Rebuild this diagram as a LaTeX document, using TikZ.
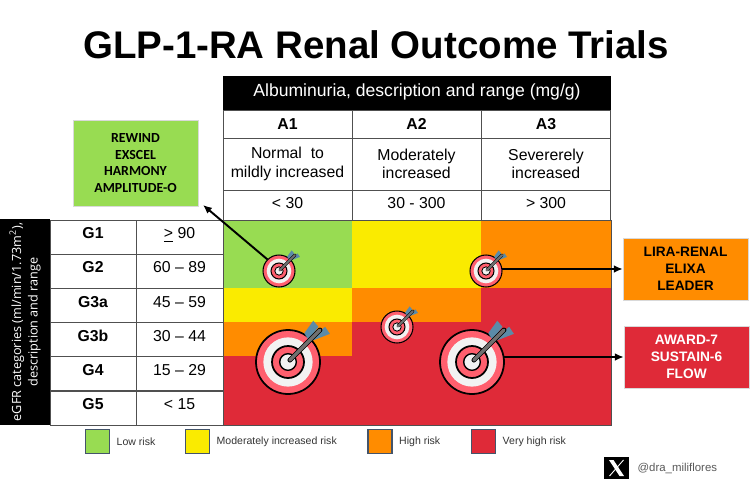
\documentclass[tikz,border=0pt]{standalone}
\usepackage{fontspec}
\setmainfont{Liberation Sans}
\newfontfamily\calfont{Carlito}
\newfontfamily\opfont{Open Sans}
\usetikzlibrary{positioning}
\usetikzlibrary{calc}
\usetikzlibrary{arrows.meta}
\definecolor{lowrisk}{HTML}{98DC52}
\definecolor{modrisk}{HTML}{FAEB00}
\definecolor{highrisk}{HTML}{FF8C00}
\definecolor{vhighrisk}{HTML}{DF2A38}
\definecolor{gridcol}{HTML}{505050}
\definecolor{pinkring}{HTML}{FF5F6E}
\definecolor{fletch}{HTML}{5B8BA8}
\definecolor{shaft}{HTML}{707070}
\definecolor{legendline}{HTML}{44546A}
\tikzset{>={Latex[length=5pt,width=4.4pt]}}
\tikzset{
  cell/.style={draw=gridcol,line width=0.5pt,fill=white,minimum width=#1*0.02cm,inner sep=0pt,anchor=center},
  cellh/.style={minimum height=#1*0.02cm},
  rowcell/.style={text height=6.5pt,text depth=4.5pt},
  heat/.style={fill=#1,draw=none},
  studybox/.style={draw=white!85!black,line width=0.3pt,fill=#1,inner sep=0pt,align=center,font=\bfseries},
  legbox/.style={draw=legendline,line width=0.6pt,fill=#1,minimum size=0.48cm,inner sep=0pt},
  legtext/.style={right=3.6pt of #1,inner sep=0pt,font=\fontsize{6}{7}\selectfont,text=black!80},
  target/.style={circle,minimum size=#1*0.04cm,inner sep=0pt},
  pics/bullseye/.style={code={
    \fill[pinkring] (0,0) circle (1);
    \draw[line width=#1] (0,0) circle (1);
    \fill[white!95!black] (0,0) circle (0.77);
    \fill[pinkring] (0,0) circle (0.50);
    \draw[line width=#1] (0,0) circle (0.50);
    \fill[white!95!black] (0,0) circle (0.26);
    \draw[line width=0.8*#1] (0,0) circle (0.26);
    \fill[fletch] (0.51,-0.90) -- (0.79,-1.29) -- (0.95,-1.10) -- (0.64,-0.69) -- cycle;
    \fill[fletch] (0.69,-0.64) -- (1.31,-0.88) -- (1.16,-1.10) -- (0.80,-0.80) -- cycle;
    \draw[line width=2.8*#1,line cap=round] (0.06,-0.06) -- (1.00,-1.00);
    \draw[shaft,line width=2*#1,line cap=round] (0.06,-0.06) -- (1.00,-1.00);
  }},
}
\begin{document}
\begin{tikzpicture}[x=0.02cm,y=-0.02cm]
\useasboundingbox (0,0) rectangle (750,483);

% Title
\node[font=\bfseries\fontsize{21.9}{26}\selectfont] (title) at (376,45) {GLP-1-RA Renal Outcome Trials};

% Heat map
\fill[heat=vhighrisk] (223,220) rectangle (611,425);
\fill[heat=lowrisk] (223,220) rectangle (352,288);
\fill[heat=modrisk] (352,220) rectangle (481,288);
\fill[heat=highrisk] (481,220) rectangle (611,288);
\fill[heat=modrisk] (223,288) rectangle (352,322);
\fill[heat=highrisk] (352,288) rectangle (481,322);
\fill[heat=highrisk] (223,322) rectangle (352,356);
\draw[gridcol,line width=0.5pt] (223,220) rectangle (611,425);

% Albuminuria header
\node[fill=black,text=white,minimum width=7.76cm,minimum height=0.68cm,inner sep=0pt,text depth=3.8pt,font=\fontsize{10}{11}\selectfont] (albhead) at (417,93) {Albuminuria, description and range (mg/g)};
\foreach \cname/\clab/\cx/\ca/\cb/\cc in {a1/A1/287.5/Normal~~to/mildly increased/{< 30},a2/A2/416.5/Moderately/increased/30 - 300,a3/A3/546/Severerely/increased/{> 300}}{
  \node[cell=129,cellh=28,font=\bfseries\fontsize{9}{11}\selectfont] (\cname) at (\cx,124) {\clab};
  \node[cell=129,cellh=52,align=center,font=\fontsize{9}{10.6}\selectfont] (\cname desc) at (\cx,164) {\ca\\\cb};
  \node[cell=129,cellh=30,text height=6.5pt,text depth=2pt,font=\fontsize{9}{11}\selectfont] (\cname range) at (\cx,205) {\cc};
}

% eGFR rows
\node[fill=black,text=white,rotate=90,minimum width=4.12cm,minimum height=1cm,inner sep=0pt,align=center,font=\opfont\fontsize{7.2}{9.4}\selectfont] (egfr) at (25,322) {eGFR categories (ml/min/1.73m\textsuperscript{2}),\\description and range};
\foreach \rname/\ry/\rlab/\rval in {g1/237/G1/{\underline{>} 90},g2/271/G2/60 -- 89,g3a/305.5/G3a/45 -- 59,g3b/339.5/G3b/30 -- 44,g4/373.5/G4/15 -- 29,g5/408/G5/{< 15}}{
  \node[cell=86,cellh=34,rowcell,font=\bfseries\fontsize{9}{11}\selectfont] (\rname) at (93,\ry) {\rlab};
  \node[cell=87,cellh=34,rowcell,font=\fontsize{9}{11}\selectfont] (\rname val) at (179.5,\ry) {\rval};
}

% Trial boxes
\node[studybox=lowrisk,minimum width=2.5cm,minimum height=1.72cm,font=\calfont\bfseries\fontsize{7.9}{9.6}\selectfont] (rewind) at (135.5,163) {REWIND\\EXSCEL\\HARMONY\\AMPLITUDE-O};
\node[studybox=highrisk,minimum width=2.5cm,minimum height=1.24cm,font=\bfseries\fontsize{7.8}{9.6}\selectfont] (lira) at (685.5,269) {LIRA-RENAL\\ELIXA\\LEADER};
\node[studybox=vhighrisk,text=white,minimum width=2.5cm,minimum height=1.24cm,font=\bfseries\fontsize{7.8}{9.6}\selectfont] (award) at (686.5,357) {AWARD-7\\SUSTAIN-6\\FLOW};
\coordinate (rewindtip) at (203,205);

% Targets
\node[target=16] (tgtlow) at (279,271) {};
\node[target=16] (tgthigh) at (486,271) {};
\node[target=16] (tgtmid) at (397,327) {};
\node[target=32] (tgtbigA) at (288,362) {};
\node[target=32] (tgtbigB) at (472,362) {};

% Arrows
\draw[->,line width=1.1pt] (tgtlow.135) -- (rewindtip);
\draw[->,line width=1.1pt] (tgthigh.east |- lira.west) -- (lira.west);
\draw[->,line width=1.1pt] (tgtbigB.east |- award.west) -- (award.west);

\pic[x=0.32cm,y=-0.32cm] at (tgtlow) {bullseye=0.6pt};
\pic[x=0.32cm,y=-0.32cm] at (tgthigh) {bullseye=0.6pt};
\pic[x=0.32cm,y=-0.32cm] at (tgtmid) {bullseye=0.6pt};
\pic[x=0.64cm,y=-0.64cm] at (tgtbigA) {bullseye=1pt};
\pic[x=0.64cm,y=-0.64cm] at (tgtbigB) {bullseye=1pt};

% Legend
\node[legbox=lowrisk] (leglow) at (97.5,441.5) {};
\node[legtext=leglow] (leglowtxt) {Low risk};
\node[legbox=modrisk] (legmod) at (197.5,441.5) {};
\node[legtext=legmod] (legmodtxt) {Moderately increased risk};
\node[legbox=highrisk] (leghigh) at (380,441.5) {};
\node[legtext=leghigh] (leghightxt) {High risk};
\node[legbox=vhighrisk] (legvhigh) at (483.5,441.5) {};
\node[legtext=legvhigh] (legvhightxt) {Very high risk};

% Handle
\node[fill=black,minimum width=0.5cm,minimum height=0.44cm,inner sep=0pt] (xlogo) at (616.5,468) {};
\fill[white] (609,460) -- (613.5,460) -- (624,476) -- (619.5,476) -- cycle;
\draw[white,line width=0.5pt] (623.5,460) -- (609.5,476);
\node[right=4.5pt of xlogo.east,anchor=west,inner sep=0pt,text=black!65,font=\fontsize{6.5}{8}\selectfont] (handle) {@dra\_miliflores};
\end{tikzpicture}
\end{document}
